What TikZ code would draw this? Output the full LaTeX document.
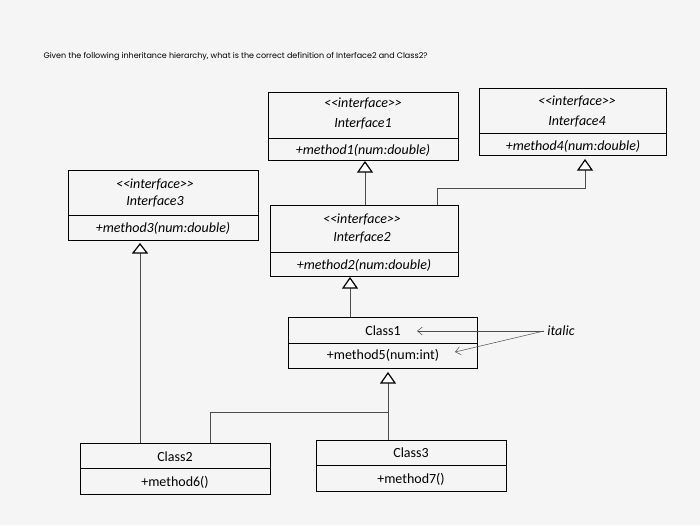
\documentclass[tikz,border=0pt]{standalone}
\usetikzlibrary{arrows.meta}
\usepackage{fontspec}
\setmainfont{Carlito}
\newfontfamily\qfont{Poppins}
\newcommand{\ilt}{{<}{<}interface{>}{>}}
\begin{document}
\begin{tikzpicture}[x=1pt,y=-1pt,
 box/.style={draw,line width=0.8pt},
 tri/.style={draw,line width=1.2pt,fill=white},
 ln/.style={draw,line width=0.5pt,gray!60!black},
 t/.style={font=\fontsize{14}{16}\selectfont\itshape},
 u/.style={font=\fontsize{14}{16}\selectfont}]
\useasboundingbox[fill=gray!8] (0,0) rectangle (700,525);
\node[anchor=west,font=\qfont\fontsize{8}{10}\selectfont] (q) at (40,57) {Given the following inheritance hierarchy, what is the correct definition of Interface2 and Class2?};
% Interface1
\draw[box] (268,92) rectangle (458,160); \draw[box] (268,138)--(458,138);
\node[t] (i1a) at (363,104) {\ilt};
\node[t] (i1b) at (363,124) {Interface1};
\node[t] (i1c) at (363,150) {+method1(num:double)};
% Interface4
\draw[box] (479,88) rectangle (666,155); \draw[box] (479,133)--(666,133);
\node[t] (i4a) at (577,102) {\ilt};
\node[t] (i4b) at (577,122) {Interface4};
\node[t] (i4c) at (573,146) {+method4(num:double)};
% Interface3
\draw[box] (68,170) rectangle (258,240); \draw[box] (68,215)--(258,215);
\node[t] (i3a) at (155,184) {\ilt};
\node[t] (i3b) at (155,202) {Interface3};
\node[t] (i3c) at (163,228) {+method3(num:double)};
% Interface2
\draw[box] (270,205) rectangle (458,276); \draw[box] (270,252)--(458,252);
\node[t] (i2a) at (362,219) {\ilt};
\node[t] (i2b) at (362,238) {Interface2};
\node[t] (i2c) at (364,265) {+method2(num:double)};
% Class1
\draw[box] (288,317) rectangle (477,368); \draw[box] (288,343)--(477,343);
\node[u] (c1a) at (383,331) {Class1};
\node[u] (c1b) at (383,355) {+method5(num:int)};
% Class2
\draw[box] (80,443) rectangle (270,494); \draw[box] (80,468)--(270,468);
\node[u] (c2a) at (175,457) {Class2};
\node[u] (c2b) at (175,482) {+method6()};
% Class3
\draw[box] (316,440) rectangle (506,491); \draw[box] (316,465)--(506,465);
\node[u] (c3a) at (411,453) {Class3};
\node[u] (c3b) at (411,479) {+method7()};
% connectors
\draw[ln] (365,205)--(365,170);
\draw[ln] (437,205)--(437,188)--(585,188)--(585,168);
\draw[ln] (140,443)--(140,252);
\draw[ln] (350,317)--(350,287);
\draw[ln] (388,440)--(388,382);
\draw[ln] (210,443)--(210,412)--(388,412);
% triangles
\draw[tri] (365,162)--(358,172)--(372,172)--cycle;
\draw[tri] (585,160)--(578,170)--(592,170)--cycle;
\draw[tri] (140,244)--(133,253)--(147,253)--cycle;
\draw[tri] (350,278)--(343,288)--(357,288)--cycle;
\draw[tri] (388,373)--(381,383)--(395,383)--cycle;
% italic note
\node[t] (it) at (561,331) {italic};
\draw[ln,-{Straight Barb[length=5pt,width=8pt]}] (it.west)--(417,331);
\draw[ln,-{Straight Barb[length=5pt,width=8pt]}] (it.west)--(455,352);
\end{tikzpicture}
\end{document}
